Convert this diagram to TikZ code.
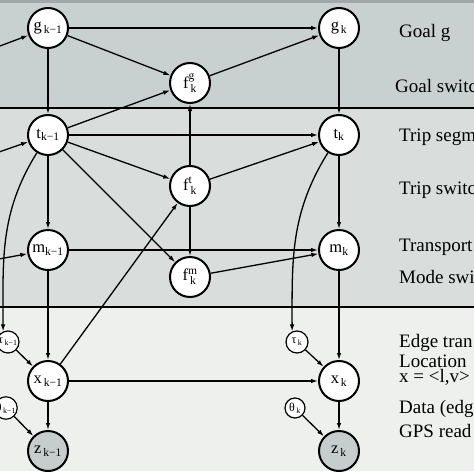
\documentclass[tikz,border=0pt]{standalone}
\usepackage{fontspec}
\setmainfont{Liberation Serif}
\usetikzlibrary{arrows.meta,positioning}
\definecolor{goalband}{HTML}{C9D1D0}
\definecolor{tripband}{HTML}{D9DDDC}
\definecolor{locband}{HTML}{EEF0EE}
\definecolor{obsfill}{HTML}{C6CDCC}
\definecolor{topedge}{HTML}{A0A8A8}
\newcommand{\vlab}[2]{#1\textsubscript{#2}}
\newcommand{\flab}[2]{$\mathrm{f}^{\mathrm{#1}}_{\,\mathrm{#2}}$}

\begin{document}
\begin{tikzpicture}[
  x=1pt, y=-1pt,
  var/.style={draw, circle, line width=2pt, fill=white, minimum size=40pt, inner sep=0pt, font=\fontsize{16.5}{16.5}\selectfont},
  obs/.style={var, fill=obsfill},
  aux/.style={draw, circle, line width=1.2pt, fill=white, minimum size=22pt, inner sep=0pt, font=\fontsize{12}{12}\selectfont},
  arr/.style={-{Latex[length=7pt,width=4.5pt]}, line width=1.3pt},
  lab/.style={anchor=base west, inner sep=0pt, font=\fontsize{19}{22}\selectfont}
]
\useasboundingbox (0,0) rectangle (474,474);
\clip (0,0) rectangle (474,474);

% layer bands
\fill[goalband] (0,0) rectangle (474,108);
\fill[tripband] (0,108) rectangle (474,307);
\fill[locband] (0,307) rectangle (474,471);
\fill[topedge] (0,0) rectangle (474,3);
\draw[line width=1.5pt] (0,108) -- (474,108);
\draw[line width=1.5pt] (0,307) -- (474,307);

% time slice k-1
\node[var] (gprev) at (48,28) {\vlab{g}{\,k−1}};
\node[var, below=65pt of gprev] (tprev) {\vlab{t}{k−1}};
\node[var, below=73pt of tprev] (mprev) {\vlab{m}{k−1}};
\node[var, below=89pt of mprev] (xprev) {\vlab{x}{\,k−1}};
\node[obs, below=28pt of xprev] (zprev) {\vlab{z}{\,k−1}};

% time slice k
\node[var, right=249pt of gprev] (gk) {\vlab{g}{\,k}};
\node[var, right=249pt of tprev] (tk) {\vlab{t}{k}};
\node[var, right=249pt of mprev] (mk) {\vlab{m}{k}};
\node[var, right=249pt of xprev] (xk) {\vlab{x}{\,k}};
\node[obs, right=249pt of zprev] (zk) {\vlab{z}{\,k}};

% switching nodes
\node[var] (fg) at (190,83) {\flab{g}{k}};
\node[var] (ft) at (190,186) {\flab{t}{k}};
\node[var] (fm) at (190,277) {\flab{m}{k}};

% edge transition and data nodes
\node[aux] (tauprev) at (8,342) {\vlab{τ}{\,k−1}};
\node[aux] (tauk) at (297,342) {\vlab{τ}{\,k}};
\node[aux, minimum size=20pt] (thprev) at (6,408) {\vlab{θ}{\,k−1}};
\node[aux, minimum size=20pt] (thk) at (295,408) {\vlab{θ}{\,k}};

% switches of slice k-1 (outside the frame)
\coordinate (fgpast) at (-99,83);
\coordinate (ftpast) at (-99,186);
\coordinate (fmpast) at (-99,277);

\draw[arr] (fgpast) -- (gprev);
\draw[arr] (ftpast) -- (tprev);
\draw[arr] (fmpast) -- (mprev);

\draw[arr] (gprev) -- (gk);
\draw[arr] (gprev) -- (fg);
\draw[arr] (fg) -- (gk);
\draw[arr] (gprev) -- (tprev);
\draw[arr] (gk) -- (tk);
\draw[arr] (tprev) -- (fg);
\draw[arr] (ft) -- (fg);

\draw[arr] (tprev) -- (tk);
\draw[arr] (tprev) -- (ft);
\draw[arr] (ft) -- (tk);
\draw[arr] (tprev) -- (fm);
\draw[arr] (ft) -- (fm);
\draw[arr] (xprev) -- (ft);
\draw[arr] (tprev) -- (mprev);
\draw[arr] (tk) -- (mk);
\draw[arr] (mprev) -- (mk);
\draw[arr] (fm) -- (mk);

\draw[arr] (mprev) -- (xprev);
\draw[arr] (mk) -- (xk);
\draw[arr] (tprev) to[out=-122, in=90] (tauprev.115);
\draw[arr] (tk) to[out=-122, in=90] (tauk.115);
\draw[arr] (tauprev) -- (xprev);
\draw[arr] (tauk) -- (xk);
\draw[arr] (xprev) -- (xk);
\draw[arr] (xprev) -- (zprev);
\draw[arr] (xk) -- (zk);
\draw[arr] (thprev) -- (zprev);
\draw[arr] (thk) -- (zk);

% layer labels
\node[lab] (lgoal) at (399,37) {Goal g};
\node[lab] (lgsw) at (395,92) {Goal switc};
\node[lab] (ltrip) at (399,141) {Trip segm};
\node[lab] (ltsw) at (399,194) {Trip switc};
\node[lab] (lmode) at (399,251) {Transport};
\node[lab] (lmsw) at (399,283) {Mode swi};
\node[lab] (ledge) at (399,347) {Edge tran};
\node[lab] (lloc) at (399,367) {Location};
\node[lab] (lxdef) at (399,382) {x = <l,v>};
\node[lab] (ldata) at (399,413) {Data (edg};
\node[lab] (lgps) at (399,437) {GPS read};
\end{tikzpicture}
\end{document}
